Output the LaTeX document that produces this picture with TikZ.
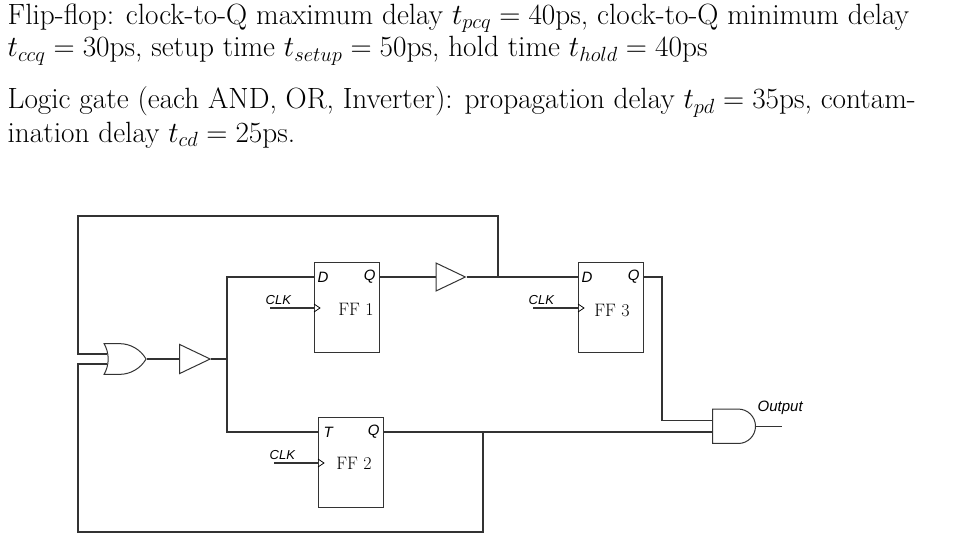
\RequirePackage{fix-cm}
\documentclass[tikz,border=0pt]{standalone}
\usepackage{fontspec}
\newfontfamily\arial{Liberation Sans}
\usetikzlibrary{shapes.gates.logic.US}
\begin{document}
\begin{tikzpicture}[x=1pt,y=-1pt,line width=1.3pt,
  wire/.style={draw=black!80},
  ffbox/.style={draw=black!80,rectangle,minimum width=65pt,minimum height=90pt,anchor=north west,inner sep=0pt},
  lbl/.style={font=\arial\itshape\fontsize{15}{15}\selectfont,inner sep=0pt},
  clbl/.style={font=\arial\itshape\fontsize{13}{13}\selectfont,inner sep=0pt},
  fflbl/.style={font=\fontsize{18}{18}\selectfont,inner sep=0pt},
  gate/.style={draw=black!80,line width=1pt,inner sep=0pt},
  txt/.style={anchor=west,inner sep=0pt,font=\fontsize{29.3}{34}\selectfont}]
\useasboundingbox (0,0) rectangle (953,555);
\fill[white] (0,0) rectangle (953,555);
\node[txt] (l1) at (7,18) {Flip-flop: clock-to-Q maximum delay $t_{pcq}=40$ps, clock-to-Q minimum delay};
\node[txt] (l2) at (7,51) {$t_{ccq}=30$ps, setup time $t_{setup}=50$ps, hold time $t_{hold}=40$ps};
\node[txt] (l3) at (7,102) {Logic gate (each AND, OR, Inverter): propagation delay $t_{pd}=35$ps, contam-};
\node[txt] (l4) at (7,135) {ination delay $t_{cd}=25$ps.};
% flip-flops
\node[ffbox] (ff1) at (314,262) {};
\node[ffbox] (ff2) at (318,417) {};
\node[ffbox] (ff3) at (578,262) {};
\node[lbl,anchor=west] at ([xshift=3pt,yshift=-15pt]ff1.north west) {D};
\node[lbl,anchor=east] at ([xshift=-4pt,yshift=-15pt]ff1.north east) {Q};
\node[lbl,anchor=west] at ([xshift=5pt,yshift=-15pt]ff2.north west) {T};
\node[lbl,anchor=east] at ([xshift=-4pt,yshift=-15pt]ff2.north east) {Q};
\node[lbl,anchor=west] at ([xshift=3pt,yshift=-15pt]ff3.north west) {D};
\node[lbl,anchor=east] at ([xshift=-4pt,yshift=-15pt]ff3.north east) {Q};
\node[fflbl] at (356,309) {FF 1};
\node[fflbl] at (354,463) {FF 2};
\node[fflbl] at (612,311) {FF 3};
% clocks
\foreach \f/\y/\xa in {ff1/308/270, ff2/463/274, ff3/308/533}{
  \coordinate (c\f) at (\xa,\y);
  \draw[wire] (c\f) -- (\f.west |- c\f);
  \draw[line width=0.8pt] ([yshift=-4pt]\f.west |- c\f) -- ([xshift=6pt]\f.west |- c\f) -- ([yshift=4pt]\f.west |- c\f);
  \node[clbl,anchor=south west] at ([xshift=-5pt,yshift=3pt]c\f) {CLK};
}
% gates
\node[or gate US,gate,minimum width=42pt,minimum height=30pt] (or) at (122,359) {};
\node[buffer gate US,gate,minimum width=26pt,minimum height=25pt] (inv) at (190,359) {};
\node[buffer gate US,gate,minimum width=27pt,minimum height=24pt] (buf) at (446,277) {};
\node[and gate US,gate,minimum width=43pt,minimum height=33pt,anchor=input 2] (and) at (712,432) {};
\node[lbl,anchor=west] (out) at (757,408) {Output};
\coordinate (j1) at (227,359);
\coordinate (j2) at (498,277);
\coordinate (j3) at (483,432);
% wiring
\draw[wire] (or.output) -- (inv.input);
\draw[wire] (inv.output) -- (j1);
\draw[wire] (ff1.west |- 0,277) -- (227,277) -- (227,432) -- (ff2.west |- 0,432);
\draw[wire] (ff1.east |- 0,277) -- (buf.input);
\draw[wire] (buf.output) -- (ff3.west |- 0,277);
\draw[wire] (j2) -- (498,216) -- (78,216) -- (78,0 |- or.input 1) -- (or.input 1);
\draw[wire] (or.input 2) -- (78,0 |- or.input 2) -- (78,532) -- (483,532) -- (j3);
\draw[wire] (ff2.east |- 0,432) -- (and.input 2);
\draw[wire] (ff3.east |- 0,277) -- (662,277) -- (662,0 |- and.input 1) -- (and.input 1);
\draw[wire,line width=0.8pt] (and.output) -- (782,0 |- and.output);
\end{tikzpicture}
\end{document}
